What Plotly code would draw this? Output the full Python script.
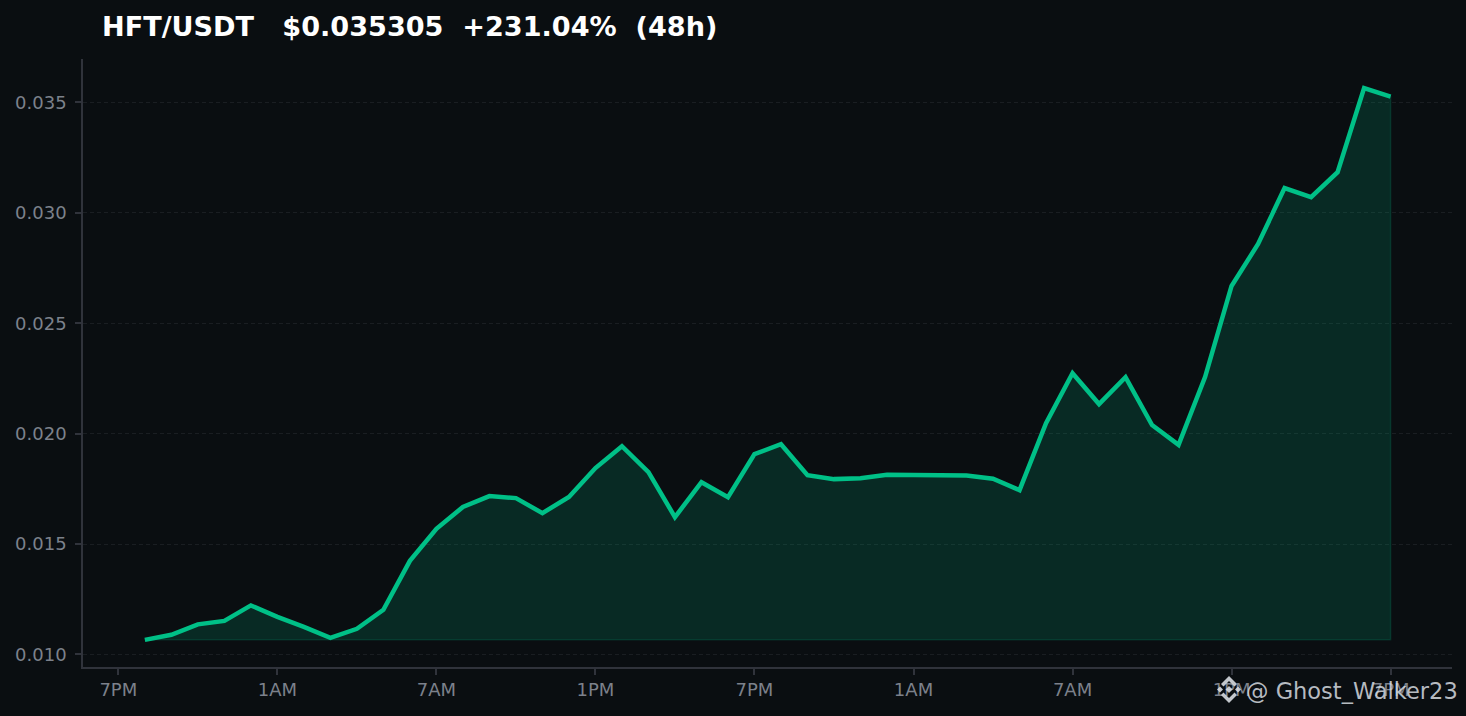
import pandas as pd
import plotly.graph_objects as go

# hourly closes
prices = [
    0.01066, 0.01089, 0.01136, 0.01152, 0.01222, 0.01170, 0.01125, 0.01075,
    0.01116, 0.01202, 0.01424, 0.01569, 0.01668, 0.01717, 0.01708, 0.01640,
    0.01713, 0.01844, 0.01943, 0.01826, 0.01622, 0.01780, 0.01712, 0.01907,
    0.01952, 0.01812, 0.01794, 0.01798, 0.01814, 0.01814, 0.01810, 0.01810,
    0.01796, 0.01744, 0.02047, 0.02274, 0.02134, 0.02256, 0.02039, 0.01949,
    0.02256, 0.02669, 0.02859, 0.03112, 0.03071, 0.03184, 0.03565, 0.03527,
]
times = pd.date_range("2024-01-01 20:00", periods=len(prices), freq="h")

y_ticks = [0.010, 0.015, 0.020, 0.025, 0.030, 0.035]
x_ticks = pd.date_range("2024-01-01 19:00", periods=9, freq="6h")
x_labels = ["7PM", "1AM", "7AM", "1PM", "7PM", "1AM", "7AM", "1PM", "7PM"]

BG = "#0a0e11"
GREEN = "#00c087"
TICK_TEXT = "#7c818b"
AXIS = "#30333b"
W, H = 1466, 716

fig = go.Figure()

# area under the line, closed along the lowest level
base = prices[0]
fig.add_trace(go.Scatter(
    x=list(times) + [times[-1], times[0]],
    y=prices + [base, base],
    mode="lines",
    fill="toself",
    fillcolor="rgba(0,192,135,0.16)",
    line=dict(color="rgba(0,192,135,0.16)", width=1.5),
    hoverinfo="skip",
    showlegend=False,
))
fig.add_trace(go.Scatter(
    x=times, y=prices, mode="lines",
    line=dict(color=GREEN, width=4.5),
    showlegend=False,
))

fig.update_layout(
    width=W, height=H,
    margin=dict(l=83, r=14, t=59, b=49, autoexpand=False),
    paper_bgcolor=BG,
    plot_bgcolor=BG,
    font=dict(family="DejaVu Sans", color=TICK_TEXT, size=18),
    title=dict(
        text="<b>HFT/USDT   $0.035305  +231.04%  (48h)</b>",
        x=102 / W, xanchor="left", xref="container",
        y=1 - 27 / H, yanchor="middle", yref="container",
        font=dict(family="DejaVu Sans", size=27.1, color="white"),
    ),
)
fig.update_xaxes(
    range=[pd.Timestamp("2024-01-01 19:00") - pd.Timedelta(minutes=80),
           pd.Timestamp("2024-01-03 19:00") + pd.Timedelta(minutes=139)],
    tickvals=x_ticks, ticktext=x_labels,
    ticks="outside", ticklen=6, tickwidth=1.5, tickcolor=AXIS,
    showline=True, linecolor=AXIS, linewidth=1.5,
    showgrid=False, zeroline=False,
)
fig.update_yaxes(
    range=[0.00943, 0.03697],
    tickvals=y_ticks, tickformat=".3f",
    ticks="outside", ticklen=6, tickwidth=1.5, tickcolor=AXIS,
    ticklabelstandoff=5,
    showline=True, linecolor=AXIS, linewidth=1.5,
    showgrid=True, gridcolor="#1a1e22", griddash="4px,3px", gridwidth=1,
    zeroline=False,
)

# watermark
fig.add_annotation(
    text="@ Ghost_Walker23",
    xref="paper", yref="paper", x=1 + 8 / (W - 97), y=-24 / (H - 108),
    xanchor="right", yanchor="middle", showarrow=False,
    font=dict(family="DejaVu Sans", size=22.5, color="rgba(215,220,225,0.85)"),
)


def logo_path(points):
    # polygon in paper coordinates, from offsets around the logo centre in pixels
    cx, cy = 1229, 689.5
    coords = [f"{(cx + x - 83) / (W - 97)},{(667 - cy - y) / (H - 108)}" for x, y in points]
    return "M" + " L".join(coords) + " Z"


chevron = [(0, -13.5), (8, -5.5), (5.5, -3), (0, -8.5), (-5.5, -3), (-8, -5.5)]
logo_parts = [
    chevron,
    [(x, -y) for x, y in chevron],
    [(0, -3.5), (3.5, 0), (0, 3.5), (-3.5, 0)],
    [(-9, -3), (-6, 0), (-9, 3), (-12, 0)],
    [(9, -3), (12, 0), (9, 3), (6, 0)],
]
for part in logo_parts:
    fig.add_shape(
        type="path", xref="paper", yref="paper", layer="above",
        path=logo_path(part),
        fillcolor="rgba(215,220,225,0.9)", line=dict(width=0),
    )

# drop the browser's default page margin so the figure fills the window
fig.write_html(
    "out.html",
    config={"displayModeBar": False},
    post_script="document.body.style.margin='0';",
)
